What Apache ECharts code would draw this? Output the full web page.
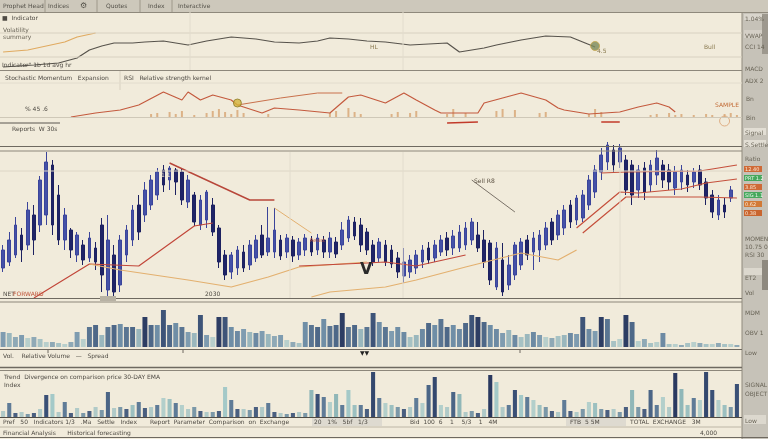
<!DOCTYPE html>
<html><head><meta charset="utf-8">
<script src="https://cdn.jsdelivr.net/npm/echarts@6/dist/echarts.min.js"></script>
<style>html,body{margin:0;padding:0;background:#f1ebdb}#c{width:768px;height:439px}</style>
</head><body><div id="c"></div>
<script>
// ---------- DATA ----------
const categories = [];
for (let i = 1; i <= 120; i++) categories.push('D' + i);

// candles: [open, close, low, high]
const candles = [
[30,48,26,53],[36,58,32,66],[43,73,40,81],[63,48,36,70],[53,88,48,96],[83,58,43,93],[73,118,66,122],[83,136,73,146],[133,73,63,138],[103,58,53,113],
[58,83,48,90],[68,48,40,70],[43,63,36,66],[53,38,33,58],[40,60,36,66],[50,36,28,56],[73,23,6,80],[8,58,2,83],[43,6,2,53],[13,58,6,63],
[43,68,36,73],[58,88,52,93],[93,66,58,103],[83,108,76,116],[93,118,88,123],[103,126,98,130],[128,113,106,133],[118,130,108,132],[128,116,103,130],[126,98,93,130],
[96,118,90,123],[103,76,72,106],[73,98,68,103],[78,106,70,108],[93,66,62,100],[70,36,30,73],[43,23,18,48],[26,43,19,46],[30,48,23,52],[46,30,26,53],
[33,53,28,58],[40,58,36,63],[63,43,40,73],[46,60,42,91],[46,68,40,90],[58,42,38,63],[46,60,40,64],[58,42,36,62],[43,56,38,60],[48,60,42,64],
[58,46,42,62],[48,60,43,64],[58,46,40,62],[46,60,40,66],[56,44,40,61],[53,68,48,76],[60,78,56,82],[76,62,58,81],[73,53,46,80],[66,48,43,70],
[53,36,32,58],[40,56,36,60],[53,36,32,58],[48,34,30,53],[40,26,20,46],[22,36,15,50],[26,38,20,43],[30,43,24,48],[36,48,30,53],[50,38,34,56],
[40,53,36,58],[46,58,42,63],[60,48,42,66],[50,62,43,68],[50,66,46,73],[53,70,48,76],[58,76,53,80],[63,50,46,76],[58,36,30,68],[55,18,13,58],
[11,50,8,56],[38,6,2,55],[13,33,8,43],[23,53,18,56],[33,56,28,60],[58,43,38,63],[46,60,28,66],[48,63,36,68],[53,70,48,76],[76,58,53,80],
[63,83,58,88],[70,88,63,93],[93,76,70,98],[78,100,73,103],[80,103,76,108],[93,118,88,123],[106,128,100,133],[126,143,118,150],[136,153,128,156],[148,133,126,153],
[136,150,130,154],[138,108,103,143],[133,103,93,138],[108,128,100,133],[130,106,98,136],[113,133,106,138],[123,140,113,148],[133,118,110,138],[128,116,108,134],[110,126,103,132],
[116,128,108,133],[123,113,106,128],[116,126,110,130],[128,113,108,133],[116,100,93,120],[103,86,80,108],[83,98,78,103],[93,86,80,100],[100,108,96,112],'-'
];

// main panel overlay lines: [candle index, price]
const redMA1  = [[5,0],[14,34],[22,32],[31,72],[34,75]];
const tanMA1  = [[14,34],[19,28],[30,18],[37,11],[43,21],[48,31],[59,36]];
const redMA2  = [[48,32],[59,35],[62,36],[67,32],[75,43]];
const tanMA2  = [[50,1],[53,6],[62,11],[67,18],[75,31],[84,45],[90,38],[93,48]];
const redA    = [[97,125],[101,126],[113,127],[119,133]];
const redB    = [[93,70],[100,106],[103,105],[110,109],[114,115],[119,119]];
const redC    = [[94,65],[101,101],[113,101],[119,100]];
const redDiag = [[27,135],[40,98],[44,98]];
const tanDiag = [[44,90],[50,65]];
const arrowLine = [[76,118],[83,86]];

// top panel
const topLine   = [[0,3],[5,5],[9,7],[12,12],[14,20],[16,24],[18,27],[21,27],[23,28],[26,29],[28,27],[30,25],[33,29],[37,33],[41,31],[44,28],[48,27],[51,29],[53,32],[56,31],[59,29],[62,28],[66,25],[69,26],[72,27],[74,18],[76,20],[78,22],[80,25],[84,30],[88,34],[92,33],[94,28],[96,23]];
const topOrange = [[0,18],[4,20],[10,28],[12,33],[15,37]];
const topMarker = [[96,24]];

// oscillator panel
const oscRed  = [[11,0],[15,4],[19,7],[22,12],[26,25],[29,17],[30,25],[32,17],[34,22],[37,17],[38,12],[42,4],[44,9],[48,7],[53,4],[56,20],[58,22],[62,14],[65,24],[67,17],[70,7],[71,4],[77,4],[78,14],[81,19],[84,24],[88,17],[90,9],[91,7],[95,3],[100,5],[103,10],[106,14],[108,10],[109,5]];
const oscRed2 = [[38,12],[45,19],[51,24],[55,24]];
const oscSeg1 = [[72,-6],[77,-5]];
const oscSeg2 = [[97,-5],[100,-5]];
const oscMarkerA = [[38,14]];
const oscMarkerB = [[117,-4]];
const oscBars = [0,0,0,0,0,0,0,0,0,0, 0,0,0,0,0,0,0,0,0,0, 0,0,0,0,3,4,0,5,3,6, 0,2,0,4,6,8,5,3,7,4, 0,0,0,3,0,0,0,0,0,0, 0,0,0,4,6,0,9,5,3,0, 0,0,0,3,5,0,4,6,0,0, 0,0,3,8,0,4,0,0,0,0, 6,8,0,7,0,0,0,4,5,0, 0,0,0,0,0,3,8,5,0,0, 0,0,0,0,0,2,3,0,4,2, 3,0,2,0,3,2,0,3,4,2];

// volume panel
const volume = [15,14,10,12,9,10,8,5,5,4, 3,5,15,8,20,22,12,20,22,23, 20,20,18,30,22,22,37,22,24,20, 15,14,32,12,10,30,30,20,16,18, 15,14,16,13,11,12,7,5,4,25, 22,20,28,21,22,34,20,22,18,20, 34,25,20,16,20,15,10,12,18,24, 22,28,20,22,18,24,32,30,25,22, 18,14,17,12,10,13,15,12,10,9, 11,12,14,13,30,18,16,30,28,6, 8,32,25,6,8,4,5,14,3,3, 2,4,5,4,3,3,4,3,3,2];

// lower histogram panel
const lowerBars = [6,14,4,5,3,4,8,22,23,5, 15,4,9,4,6,10,7,25,9,10, 8,12,15,9,10,12,19,18,14,12, 8,10,6,5,5,6,30,17,8,8, 7,10,10,14,5,4,3,4,5,4, 27,23,20,15,23,12,27,12,12,8, 45,19,14,12,10,8,10,19,14,32, 40,12,10,25,23,5,6,4,8,42, 35,10,12,27,22,20,17,12,10,6, 5,17,6,5,8,15,14,8,7,8, 5,10,27,10,8,27,12,20,10,44, 28,12,19,17,45,27,17,12,10,33];

// right strip badge labels
const badgeLabels = ['12.40','PRT 1.2','3.85','SIG 1.1','0.62','0.38'];

// ---------- CHART ----------
const chart = echarts.init(document.getElementById('c'), null, {renderer:'canvas'});
const L = 0, R = 28;
function xa(gi){ return {type:'category', gridIndex:gi, data:categories, boundaryGap:true, show:false}; }
function ya(gi,min,max){ return {type:'value', gridIndex:gi, min:min, max:max, show:false}; }
function ln(gi, data, color, w, extra){ return Object.assign({type:'line', xAxisIndex:gi, yAxisIndex:gi, data:data, symbol:'none', lineStyle:{color:color, width:w}, silent:true, z:3}, extra||{}); }

const volColor = p => { const v = p.value, i = p.dataIndex;
  if (v >= 30) return i%2 ? '#2d3d63' : '#3e5478';
  if (v >= 20) return ['#4e6888','#6f8ea6','#5a7592'][i%3];
  if (v >= 12) return ['#7f9cb0','#9ab7bd','#6d8aa3'][i%3];
  return ['#a7c2c4','#b8cfcc','#8fa9b6'][i%3]; };
const lowColor = p => { const v = p.value, i = p.dataIndex;
  if (v >= 38) return i%2 ? '#2a3960' : '#34486e';
  if (v >= 22) return ['#a4c9c8','#4b6586','#90b7b8','#3a5076'][i%4];
  if (v >= 12) return ['#9cc0c0','#5f7b97','#b3cfcb'][i%3];
  return ['#b0cac8','#7b98a8','#4a5f80'][i%3]; };

const T = (x,y,text,opt) => Object.assign({type:'text', x:x, y:y, z:50, silent:true, style:Object.assign({text:text, fill:'#6a6558', font:'6px "DejaVu Sans"'}, (opt||{}))});
const H = (y,x1,x2,c,w) => ({type:'line', z:40, silent:true, shape:{x1:x1,y1:y,x2:x2,y2:y}, style:{stroke:c, lineWidth:w}});
const V = (x,y1,y2,c,w) => ({type:'line', z:40, silent:true, shape:{x1:x,y1:y1,x2:x,y2:y2}, style:{stroke:c, lineWidth:w}});
const B = (x,y,w,h,f,z) => ({type:'rect', z:z||45, silent:true, shape:{x:x,y:y,width:w,height:h}, style:{fill:f}});

const dark = '#8d877b', light = '#d8d1c1';
const graphics = [
  B(0,0,768,12,'#cdc8bb',30),
  H(12.5,0,768,'#8f897c',1),
  T(3,3,'Prophet Head',{fill:'#55524a'}), T(48,3,'Indices',{fill:'#55524a'}), T(80,2,'⚙',{fill:'#55524a',font:'8px "DejaVu Sans"'}),
  T(106,3,'Quotes',{fill:'#55524a'}), T(148,3,'Index',{fill:'#55524a'}), T(178,3,'Interactive',{fill:'#55524a'}),
  V(45,0,12,'#9e988a',1), V(97,0,12,'#9e988a',1), V(140,0,12,'#9e988a',1), V(172,0,12,'#9e988a',1),
  // right strip
  B(742,12,26,427,'#c6c2b8',30),
  V(742,12,439,'#8f897c',1),
  B(744,14,18,6,'#d9d5cc'), B(744,30,18,8,'#d4cfc6'), B(762,14,6,40,'#9d988e'),
  B(744,128,22,7,'#e2ded4'), B(744,140,22,7,'#e2ded4'),
  B(744,166,18,6,'#cf6a37'), B(744,175,18,6,'#46a85d'), B(744,184,18,6,'#cf6a37'),
  B(744,192,18,6,'#46a85d'), B(744,201,18,6,'#d27a36'), B(744,210,18,6,'#c9652f'),
  B(744,268,22,7,'#dcd8ce'), B(762,260,6,30,'#8e897f'), B(744,415,22,9,'#dcd8ce'),
  T(745,16,'1.04%'), T(745,33,'VWAP'), T(745,44,'CCI 14'), T(745,66,'MACD'), T(745,78,'ADX 2'),
  T(746,96,'Bn'), T(746,115,'Bin'), T(745,130,'Signal'), T(745,142,'S.Settle'), T(745,156,'Ratio'),
  T(745,167,badgeLabels[0],{fill:'#fbe9d6',font:'5px "DejaVu Sans"'}), T(745,176,badgeLabels[1],{fill:'#eaf7ec',font:'5px "DejaVu Sans"'}),
  T(745,185,badgeLabels[2],{fill:'#fbe9d6',font:'5px "DejaVu Sans"'}), T(745,193,badgeLabels[3],{fill:'#eaf7ec',font:'5px "DejaVu Sans"'}),
  T(745,202,badgeLabels[4],{fill:'#fbe9d6',font:'5px "DejaVu Sans"'}), T(745,211,badgeLabels[5],{fill:'#fbe9d6',font:'5px "DejaVu Sans"'}),
  T(745,236,'MOMENT'), T(745,244,'10.75 0'), T(745,252,'RSI 30'), T(745,275,'ET2'), T(745,290,'Vol'),
  T(745,310,'MDM'), T(745,330,'OBV 1'), T(745,350,'Low'), T(745,382,'SIGNAL'), T(745,391,'OBJECT'), T(745,418,'Low'),
  // panel 1
  H(33,0,742,light,1), H(57,0,742,light,1), H(70.5,0,742,dark,1),
  V(190,12,70,'#e2dccd',1), V(403,12,70,'#e2dccd',1),
  T(2,15,'■  Indicator',{fill:'#4f4b44'}), T(3,27,'Volatility'), T(3,34,'summary'),
  T(2,62,'Indicator" 1b 1d avg hr',{fill:'#4f4b44'}), T(370,44,'HL',{fill:'#8a7a50'}), T(597,48,'4.5',{fill:'#8a7a50'}),
  T(704,44,'Bull',{fill:'#8a7a50'}),
  // panel 2
  V(120,71,90,light,1), H(83,0,742,'#e2dccd',1), H(117.5,0,742,'#cfc8b8',1),
  T(5,75,'Stochastic Momentum   Expansion',{fill:'#4f4b44'}), T(124,75,'RSI   Relative strength kernel',{fill:'#4f4b44'}),
  T(25,106,'% 45 .6',{fill:'#4f4b44'}), H(123,0,60,'#5b5750',1), T(12,126,'Reports  W 30s',{fill:'#4f4b44'}),
  T(715,102,'SAMPLE',{fill:'#c26a34'}),
  H(146.5,0,742,'#6e6960',1.2), H(151,0,742,'#8d877b',1),
  // main
  H(171,0,742,'#ddd6c6',1), V(290,152,298,'#e2dccd',1), V(403,152,298,'#e2dccd',1), V(620,152,298,'#e2dccd',1),
  T(3,291,'NET',{fill:'#4f4b44'}), T(13,291,'FORWARD',{fill:'#c0553a'}), T(205,291,'2030',{fill:'#4f4b44'}),
  T(474,178,'Sell R8',{fill:'#5a4f40'}), T(360,262,'V',{fill:'#2a2a2a',font:'bold 16px "DejaVu Sans"'}),
  T(310,238,'Resist',{fill:'#c0553a',font:'5px "DejaVu Sans"'}), T(161,172,'1 1',{fill:'#efe6cc'}),
  H(298.5,0,742,'#6e6960',1.2), H(302,0,742,'#8d877b',1), B(100,296,16,5,'#b8b2a4'),
  // volume
  H(349.5,0,742,'#6e6960',1.2), V(48,349,353,'#6e6960',1), V(183,349,353,'#6e6960',1), V(520,349,353,'#6e6960',1),
  T(3,353,'Vol.    Relative Volume   —   Spread',{fill:'#4f4b44'}), T(360,350,'▼▼',{fill:'#222',font:'6px "DejaVu Sans"'}),
  H(367.5,0,742,'#6e6960',1.5), H(370.5,0,742,'#8d877b',1),
  // lower panel
  T(4,374,'Trend  Divergence on comparison price 30-DAY EMA',{fill:'#4f4b44'}), T(4,382,'Index',{fill:'#4f4b44'}),
  H(417.5,0,742,'#4f4b44',1.2), H(427,0,742,'#bdb6a6',1),
  T(3,419,'Pref   50   Indicators 1/3   .Ma   Settle   Index',{fill:'#4f4b44'}), T(150,419,'Report  Parameter  Comparison  on  Exchange',{fill:'#4f4b44'}),
  B(312,418,70,8,'#dedad0'), T(314,419,'20   1%   5bf   1/3',{fill:'#4f4b44'}),
  T(410,419,'Bid  100  6    1    5/3    1   4M',{fill:'#4f4b44'}), B(566,418,60,8,'#dedad0'), T(570,419,'FTB  5 5M',{fill:'#4f4b44'}),
  T(630,419,'TOTAL  EXCHANGE   3M',{fill:'#4f4b44'}),
  T(3,430,'Financial Analysis      Historical forecasting',{fill:'#4f4b44'}), T(700,430,'4,000',{fill:'#4f4b44'}),
  H(437.5,0,768,'#6e6960',1.2)
];

chart.setOption({
  animation:false,
  backgroundColor:'#f1ebdb',
  grid:[
    {left:L,right:R,top:14,height:56},
    {left:L,right:R,top:80,height:47},
    {left:L,right:R,top:138,height:160},
    {left:L,right:R,top:305,height:42},
    {left:L,right:R,top:370,height:47}
  ],
  xAxis:[xa(0),xa(1),xa(2),xa(3),xa(4)],
  yAxis:[ya(0,0,56),ya(1,-10,37),ya(2,0,160),ya(3,0,42),ya(4,0,47)],
  series:[
    ln(0, topOrange, '#e0aa60', 1.2),
    ln(0, topLine, '#57534c', 1.2),
    {type:'scatter', xAxisIndex:0, yAxisIndex:0, data:topMarker, symbolSize:9, itemStyle:{color:'#7c8a5a', borderColor:'#c9a94e', borderWidth:1}, silent:true, z:4},

    {type:'bar', xAxisIndex:1, yAxisIndex:1, data:oscBars, barWidth:2, itemStyle:{color:'#d8a878', opacity:0.85}, silent:true},
    ln(1, oscRed, '#c45a3e', 1.2),
    ln(1, oscRed2, '#c9714c', 1),
    ln(1, oscSeg1, '#c23a2a', 1.5),
    ln(1, oscSeg2, '#c23a2a', 1.5),
    {type:'scatter', xAxisIndex:1, yAxisIndex:1, data:oscMarkerA, symbolSize:8, itemStyle:{color:'#d4b53c', borderColor:'#8a7a2a', borderWidth:1}, silent:true, z:5},
    {type:'scatter', xAxisIndex:1, yAxisIndex:1, data:oscMarkerB, symbolSize:10, itemStyle:{color:'rgba(0,0,0,0)', borderColor:'#d9a070', borderWidth:1}, silent:true, z:5},

    {type:'candlestick', xAxisIndex:2, yAxisIndex:2, data:candles, barWidth:'52%', clip:false, silent:true, z:2,
      itemStyle:{color:'#4451a8', color0:'#1f2468', borderColor:'#3b449a', borderColor0:'#1d2160', borderWidth:1}},
    ln(2, redMA1, '#c2473a', 1.2),
    ln(2, tanMA1, '#e3b06f', 1.2),
    ln(2, redMA2, '#c2473a', 1.2),
    ln(2, tanMA2, '#e3b06f', 1.2),
    ln(2, redA, '#c5503c', 1.2),
    ln(2, redB, '#c5503c', 1.2),
    ln(2, redC, '#c5503c', 1.2),
    ln(2, redDiag, '#b8473a', 1.4),
    ln(2, tanDiag, '#e3b06f', 1),
    ln(2, arrowLine, '#7a7268', 1, {symbol:['none','arrow'], symbolSize:5, showSymbol:true, itemStyle:{color:'#7a7268'}}),

    {type:'bar', xAxisIndex:3, yAxisIndex:3, data:volume, barWidth:'80%', itemStyle:{color:volColor}, silent:true},
    {type:'bar', xAxisIndex:4, yAxisIndex:4, data:lowerBars, barWidth:'66%', itemStyle:{color:lowColor}, silent:true}
  ],
  graphic:graphics
});
</script></body></html>
